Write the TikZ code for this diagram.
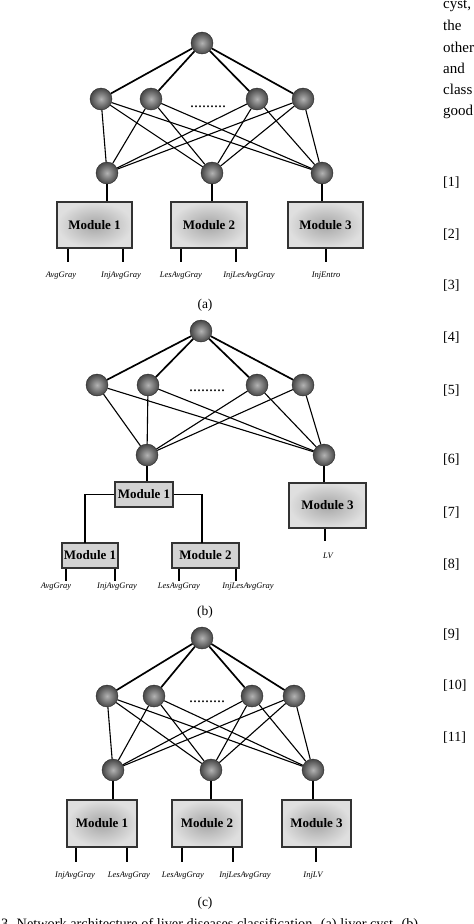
\documentclass[tikz,border=0pt]{standalone}
\usepackage{fontspec}
\setmainfont{Liberation Serif}
\usetikzlibrary{positioning}

\begin{document}
\begin{tikzpicture}[x=1pt, y=-1pt,
	neuron/.style={circle, draw=gray!30!black, inner sep=0pt, minimum size=22pt, inner color=gray!60, outer color=gray!55!black},
	module/.style={draw=gray!40!black, line width=1.3pt, inner color=gray!70, outer color=gray!25, font=\bfseries\fontsize{13}{13}\selectfont, minimum height=46pt},
	submodule/.style={draw=gray!40!black, line width=1.3pt, fill=gray!35, inner sep=0pt, font=\bfseries\fontsize{13}{13}\selectfont, minimum height=25pt},
	toplink/.style={line width=1.7pt},
	hidlink/.style={line width=1.1pt},
	feedline/.style={line width=1.5pt},
	inp/.style={font=\itshape\fontsize{8.5}{8.5}\selectfont},
	sublabel/.style={font=\fontsize{13.5}{13.5}\selectfont},
	dotrow/.style={font=\fontsize{16}{16}\selectfont},
	side/.style={anchor=base west, inner sep=0pt, font=\fontsize{15}{15}\selectfont},
	refno/.style={anchor=base west, inner sep=0pt, font=\fontsize{14}{14}\selectfont}]
	\useasboundingbox (0,0) rectangle (474,924);
	\clip (0,0) rectangle (474,924);

	% (a)
	\node[neuron] (ta) at (202,43) {};
	\node[neuron] (ha1) at (101,99) {};
	\node[neuron] (ha2) at (151,99) {};
	\node[neuron] (ha3) at (257,99) {};
	\node[neuron] (ha4) at (303,99) {};
	\node[dotrow] (dotsa) at (208,107) {.........};
	\node[neuron] (la1) at (107,173) {};
	\node[neuron] (la2) at (212,173) {};
	\node[neuron] (la3) at (322,173) {};
	\node[module, minimum width=75pt] (ma1) at (94.5,225) {Module 1};
	\node[module, minimum width=76pt] (ma2) at (209,225) {Module 2};
	\node[module, minimum width=75pt] (ma3) at (325.5,225) {Module 3};

	\draw[toplink] (ta) -- (ha1) (ta) -- (ha2) (ta) -- (ha3) (ta) -- (ha4);
	\draw[hidlink] (ha1) -- (la1) (ha1) -- (la2) (ha1) -- (la3);
	\draw[hidlink] (ha2) -- (la1) (ha2) -- (la2) (ha2) -- (la3);
	\draw[hidlink] (ha3) -- (la1) (ha3) -- (la2) (ha3) -- (la3);
	\draw[hidlink] (ha4) -- (la1) (ha4) -- (la2) (ha4) -- (la3);
	\draw[feedline] (la1) -- (la1 |- ma1.north);
	\draw[feedline] (la2) -- (la2 |- ma2.north);
	\draw[feedline] (la3) -- (la3 |- ma3.north);

	\coordinate (ia1) at (68,262);
	\coordinate (ia2) at (123,262);
	\coordinate (ia3) at (181,262);
	\coordinate (ia4) at (236,262);
	\coordinate (ia5) at (326,262);
	\draw[feedline] (ia1 |- ma1.south) -- (ia1);
	\draw[feedline] (ia2 |- ma1.south) -- (ia2);
	\draw[feedline] (ia3 |- ma2.south) -- (ia3);
	\draw[feedline] (ia4 |- ma2.south) -- (ia4);
	\draw[feedline] (ia5 |- ma3.south) -- (ia5);
	\node[inp] (na1) at (61,276) {AvgGray};
	\node[inp] (na2) at (121,276) {InjAvgGray};
	\node[inp] (na3) at (181,276) {LesAvgGray};
	\node[inp] (na4) at (249,276) {InjLesAvgGray};
	\node[inp] (na5) at (326,276) {InjEntro};
	\node[sublabel] (capa) at (205,305) {(a)};

	% (b)
	\node[neuron] (tb) at (201,331) {};
	\node[neuron] (hb1) at (97,385) {};
	\node[neuron] (hb2) at (148,385) {};
	\node[neuron] (hb3) at (257,385) {};
	\node[neuron] (hb4) at (303,385) {};
	\node[dotrow] (dotsb) at (207,391) {.........};
	\node[neuron] (lb1) at (147,455) {};
	\node[neuron] (lb2) at (324,455) {};
	\node[submodule, minimum width=58pt] (mb1) at (144,494.5) {Module 1};
	\node[module, minimum width=77pt, minimum height=45pt] (mb3) at (327.5,505.5) {Module 3};
	\node[submodule, minimum width=56pt] (mb11) at (90,555.5) {Module 1};
	\node[submodule, minimum width=67pt] (mb12) at (205.5,555.5) {Module 2};

	\draw[toplink] (tb) -- (hb1) (tb) -- (hb2) (tb) -- (hb3) (tb) -- (hb4);
	\draw[hidlink] (hb1) -- (lb1) (hb1) -- (lb2);
	\draw[hidlink] (hb2) -- (lb1) (hb2) -- (lb2);
	\draw[hidlink] (hb3) -- (lb1) (hb3) -- (lb2);
	\draw[hidlink] (hb4) -- (lb1) (hb4) -- (lb2);
	\draw[feedline] (lb1) -- (lb1 |- mb1.north);
	\draw[feedline] (lb2) -- (lb2 |- mb3.north);
	\coordinate (bl) at (85,543);
	\coordinate (br) at (202,543);
	\draw[feedline] (mb1.west) -| (bl);
	\draw[feedline] (mb1.east) -| (br);

	\coordinate (ib1) at (66,581);
	\coordinate (ib2) at (115,581);
	\coordinate (ib3) at (179,581);
	\coordinate (ib4) at (236,581);
	\coordinate (ib5) at (325,541);
	\draw[feedline] (ib1 |- mb11.south) -- (ib1);
	\draw[feedline] (ib2 |- mb11.south) -- (ib2);
	\draw[feedline] (ib3 |- mb12.south) -- (ib3);
	\draw[feedline] (ib4 |- mb12.south) -- (ib4);
	\draw[feedline] (ib5 |- mb3.south) -- (ib5);
	\node[inp] (nb1) at (56,587) {AvgGray};
	\node[inp] (nb2) at (117,587) {InjAvgGray};
	\node[inp] (nb3) at (179,587) {LesAvgGray};
	\node[inp] (nb4) at (248,587) {InjLesAvgGray};
	\node[inp] (nb5) at (328,556) {LV};
	\node[sublabel] (capb) at (205,612) {(b)};

	% (c)
	\node[neuron] (tc) at (202,638) {};
	\node[neuron] (hc1) at (107,696) {};
	\node[neuron] (hc2) at (154,696) {};
	\node[neuron] (hc3) at (252,696) {};
	\node[neuron] (hc4) at (294,696) {};
	\node[dotrow] (dotsc) at (207,702) {.........};
	\node[neuron] (lc1) at (113,770) {};
	\node[neuron] (lc2) at (211,770) {};
	\node[neuron] (lc3) at (313,770) {};
	\node[module, minimum width=70pt, minimum height=47pt] (mc1) at (102,823.5) {Module 1};
	\node[module, minimum width=70pt, minimum height=47pt] (mc2) at (207,823.5) {Module 2};
	\node[module, minimum width=69pt, minimum height=47pt] (mc3) at (316.5,823.5) {Module 3};

	\draw[toplink] (tc) -- (hc1) (tc) -- (hc2) (tc) -- (hc3) (tc) -- (hc4);
	\draw[hidlink] (hc1) -- (lc1) (hc1) -- (lc2) (hc1) -- (lc3);
	\draw[hidlink] (hc2) -- (lc1) (hc2) -- (lc2) (hc2) -- (lc3);
	\draw[hidlink] (hc3) -- (lc1) (hc3) -- (lc2) (hc3) -- (lc3);
	\draw[hidlink] (hc4) -- (lc1) (hc4) -- (lc2) (hc4) -- (lc3);
	\draw[feedline] (lc1) -- (lc1 |- mc1.north);
	\draw[feedline] (lc2) -- (lc2 |- mc2.north);
	\draw[feedline] (lc3) -- (lc3 |- mc3.north);

	\coordinate (ic1) at (76,862);
	\coordinate (ic2) at (127,862);
	\coordinate (ic3) at (182,862);
	\coordinate (ic4) at (233,862);
	\coordinate (ic5) at (316,862);
	\draw[feedline] (ic1 |- mc1.south) -- (ic1);
	\draw[feedline] (ic2 |- mc1.south) -- (ic2);
	\draw[feedline] (ic3 |- mc2.south) -- (ic3);
	\draw[feedline] (ic4 |- mc2.south) -- (ic4);
	\draw[feedline] (ic5 |- mc3.south) -- (ic5);
	\node[inp] (nc1) at (75,876) {InjAvgGray};
	\node[inp] (nc2) at (129,876) {LesAvgGray};
	\node[inp] (nc3) at (183,876) {LesAvgGray};
	\node[inp] (nc4) at (245,876) {InjLesAvgGray};
	\node[inp] (nc5) at (313,876) {InjLV};
	\node[sublabel] (capc) at (205,903) {(c)};

	% caption and the next column
	\node[side, font=\fontsize{14.3}{14.3}\selectfont] (figcap) at (1,928) {3. Network architecture of liver diseases classification. (a) liver cyst. (b)};
	\node[side] (w1) at (443,8) {cyst,};
	\node[side] (w2) at (443,30) {the};
	\node[side] (w3) at (443,52) {other};
	\node[side] (w4) at (443,73) {and};
	\node[side] (w5) at (443,94) {class};
	\node[side] (w6) at (443,115) {good};
	\node[refno] (r1) at (443,186) {[1]};
	\node[refno] (r2) at (443,238) {[2]};
	\node[refno] (r3) at (443,289) {[3]};
	\node[refno] (r4) at (443,341) {[4]};
	\node[refno] (r5) at (443,394) {[5]};
	\node[refno] (r6) at (443,463) {[6]};
	\node[refno] (r7) at (443,516) {[7]};
	\node[refno] (r8) at (443,568) {[8]};
	\node[refno] (r9) at (443,638) {[9]};
	\node[refno] (r10) at (443,689) {[10]};
	\node[refno] (r11) at (443,741) {[11]};
\end{tikzpicture}
\end{document}
